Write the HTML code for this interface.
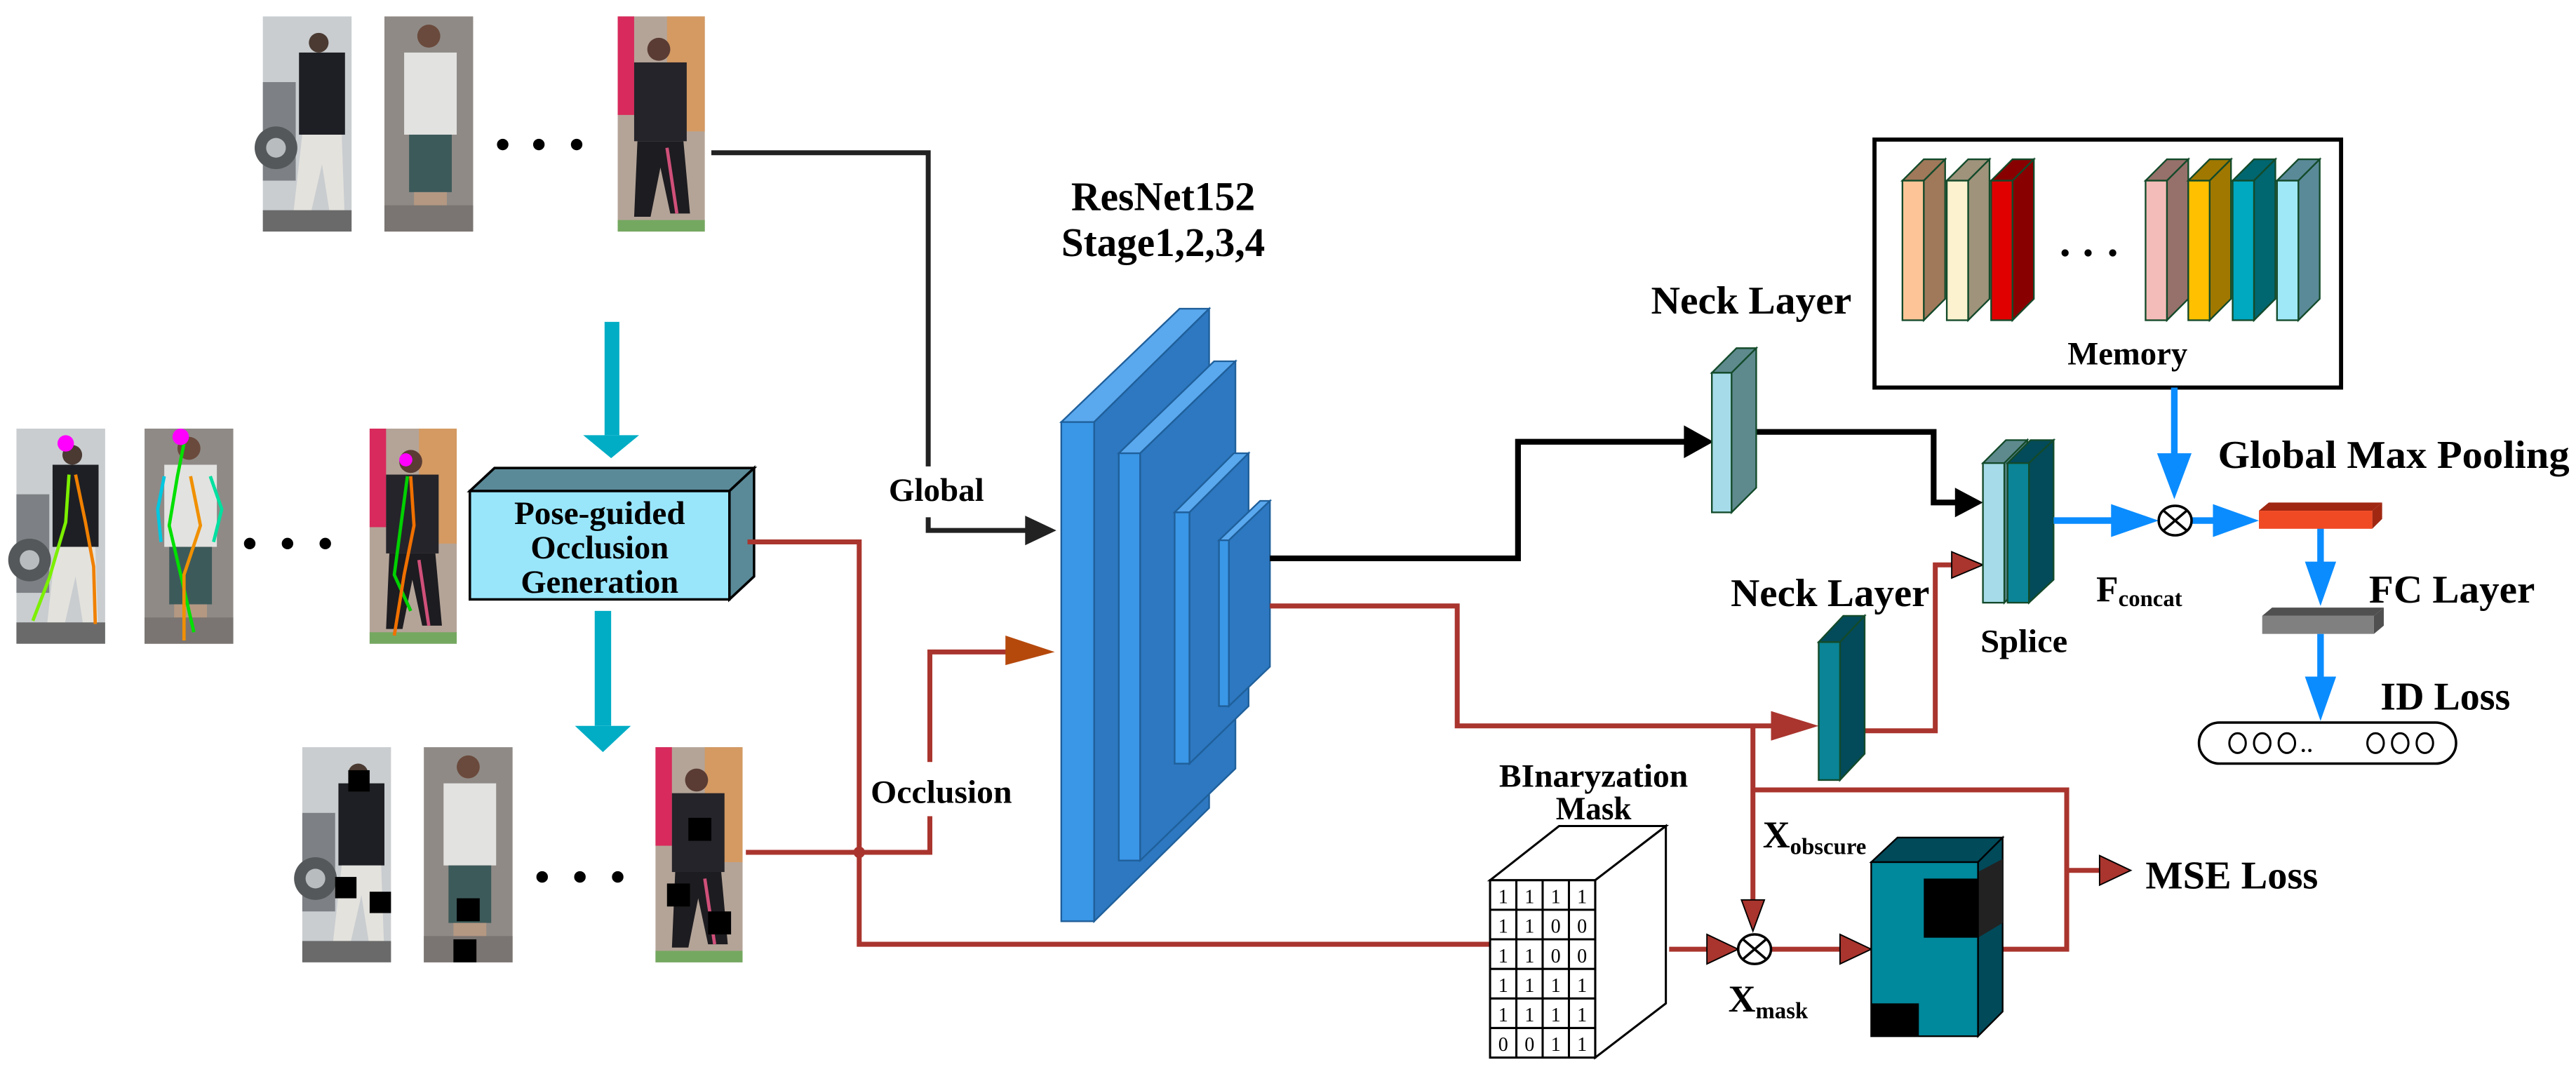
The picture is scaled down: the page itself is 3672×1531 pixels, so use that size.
<!DOCTYPE html>
<html><head><meta charset="utf-8"><style>
html,body{margin:0;padding:0;background:#fff;}
svg{display:block;}
text{font-family:"Liberation Serif",serif;font-weight:bold;fill:#000;}
</style></head><body>
<svg width="3672" height="1531" viewBox="0 0 1568 654" preserveAspectRatio="none" xmlns="http://www.w3.org/2000/svg">
<defs>
<g id="p1">
<rect x="0" y="0" width="54" height="131" fill="#c9cdd0"/>
<rect x="0" y="40" width="20" height="60" fill="#7d8084"/>
<circle cx="8" cy="80" r="13" fill="#55585a"/>
<circle cx="8" cy="80" r="6" fill="#b9bcbf"/>
<rect x="22" y="22" width="28" height="50" fill="#1e1f24"/>
<circle cx="34" cy="16" r="6" fill="#4a3a32"/>
<polygon points="24,72 48,72 50,128 42,128 36,90 28,125 18,125" fill="#e4e2dd"/>
<rect x="0" y="118" width="54" height="13" fill="#6a6a6a"/>
</g>
<g id="p2">
<rect x="0" y="0" width="54" height="131" fill="#8f8a86"/>
<rect x="12" y="22" width="32" height="50" fill="#e2e2e0"/>
<circle cx="27" cy="12" r="7" fill="#6a4a3c"/>
<rect x="15" y="72" width="26" height="35" fill="#3d5a5a"/>
<rect x="18" y="107" width="20" height="18" fill="#b49882"/>
<rect x="0" y="115" width="54" height="16" fill="#7a7572"/>
</g>
<g id="p3">
<rect x="0" y="0" width="53" height="131" fill="#b4a498"/>
<rect x="30" y="0" width="23" height="70" fill="#d49a62"/>
<rect x="0" y="0" width="10" height="60" fill="#d82a5c"/>
<rect x="10" y="28" width="32" height="48" fill="#25242a"/>
<circle cx="25" cy="20" r="7" fill="#5a3c34"/>
<polygon points="12,76 40,76 44,120 32,120 26,92 20,122 10,122" fill="#1d1c20"/>
<line x1="30" y1="80" x2="36" y2="120" stroke="#d0507a" stroke-width="2"/>
<rect x="0" y="124" width="53" height="7" fill="#74a860"/>
</g>
</defs>

<use href="#p1" x="160" y="10"/>
<use href="#p2" x="234" y="10"/>
<use href="#p3" x="376" y="10"/>
<circle cx="306" cy="88" r="3.5"/><circle cx="328" cy="88" r="3.5"/><circle cx="351" cy="88" r="3.5"/>

<use href="#p1" x="10" y="261"/>
<use href="#p2" x="88" y="261"/>
<use href="#p3" x="225" y="261"/>
<g stroke-width="2" fill="none">
<polyline points="42,289 40,318 30,352 20,378" stroke="#7cf000"/>
<polyline points="46,289 52,318 57,345 58,380" stroke="#f08000"/>
<polyline points="112,270 108,290 103,320 110,350 118,385" stroke="#00e000"/>
<polyline points="116,290 122,320 112,350 112,390" stroke="#f09000"/>
<polyline points="100,290 96,310 98,330" stroke="#00c8e0"/>
<polyline points="128,290 135,310 130,330" stroke="#00e0a0"/>
<polyline points="248,290 244,320 240,350 250,372" stroke="#00d000"/>
<polyline points="250,290 252,320 246,350 240,387" stroke="#f07000"/>
</g>
<circle cx="40" cy="270" r="5" fill="#ff00ff"/><circle cx="110" cy="266" r="5" fill="#ff00ff"/><circle cx="247" cy="280" r="4" fill="#ff00ff"/>
<circle cx="152" cy="331" r="3.5"/><circle cx="175" cy="331" r="3.5"/><circle cx="198" cy="331" r="3.5"/>

<use href="#p1" x="184" y="455"/>
<use href="#p2" x="258" y="455"/>
<use href="#p3" x="399" y="455"/>
<g fill="#000">
<rect x="212" y="469" width="13" height="13"/><rect x="204" y="534" width="13" height="13"/><rect x="225" y="543" width="13" height="13"/>
<rect x="278" y="547" width="14" height="14"/><rect x="276" y="572" width="14" height="14"/>
<rect x="419" y="498" width="14" height="14"/><rect x="406" y="538" width="14" height="14"/><rect x="431" y="555" width="14" height="14"/>
</g>
<circle cx="330" cy="534" r="3.5"/><circle cx="353" cy="534" r="3.5"/><circle cx="376" cy="534" r="3.5"/>

<rect x="368" y="196" width="9" height="69" fill="#00adc5"/>
<polygon points="355,265 389,265 372,279" fill="#00adc5"/>
<rect x="362" y="372" width="10" height="70" fill="#00adc5"/>
<polygon points="350,442 384,442 367,458" fill="#00adc5"/>

<polygon points="286,299 301,285 459,285 444,299" fill="#5a8a98" stroke="#000" stroke-width="1.5"/>
<polygon points="444,299 459,285 459,351 444,365" fill="#5a8a98" stroke="#000" stroke-width="1.5"/>
<rect x="286" y="299" width="158" height="66" fill="#99e6fb" stroke="#000" stroke-width="1.5"/>
<text x="365" y="319" font-size="20" text-anchor="middle" textLength="104" lengthAdjust="spacingAndGlyphs">Pose-guided</text>
<text x="365" y="340" font-size="20" text-anchor="middle" textLength="84" lengthAdjust="spacingAndGlyphs">Occlusion</text>
<text x="365" y="361" font-size="20" text-anchor="middle" textLength="96" lengthAdjust="spacingAndGlyphs">Generation</text>

<g fill="none" stroke-width="3" stroke-linejoin="miter">
<polyline points="433,93 565,93 565,284" stroke="#222"/>
<polyline points="565,315 565,323 626,323" stroke="#222"/>
<polyline points="455,330 523,330 523,575 908,575" stroke="#a9352e"/>
<polyline points="454,519 566,519 566,497" stroke="#a9352e"/>
<polyline points="566,464 566,397 614,397" stroke="#a9352e"/>
</g>
<polygon points="624,314 643,323 624,332" fill="#222"/>
<polygon points="612,387 642,397 612,405" fill="#b5490c"/>
<circle cx="523" cy="519" r="3.5" fill="#a9352e"/>
<text x="570" y="305" font-size="20" text-anchor="middle" textLength="58" lengthAdjust="spacingAndGlyphs">Global</text>
<text x="573" y="489" font-size="20" text-anchor="middle" textLength="86" lengthAdjust="spacingAndGlyphs">Occlusion</text>

<text x="708" y="128" font-size="25" text-anchor="middle" textLength="112" lengthAdjust="spacingAndGlyphs">ResNet152</text>
<text x="708" y="156" font-size="25" text-anchor="middle" textLength="124" lengthAdjust="spacingAndGlyphs">Stage1,2,3,4</text>
<g stroke="#1f5f9a" stroke-width="1">
<polygon points="646,257 718,188 736,188 666,257" fill="#5aa8ee"/>
<polygon points="666,257 736,188 736,492 666,561" fill="#2d78c0"/>
<rect x="646" y="257" width="20" height="304" fill="#3a96e6"/>
<polygon points="681,276 739,220 752,220 694,276" fill="#5aa8ee"/>
<polygon points="694,276 752,220 752,468 694,524" fill="#2d78c0"/>
<rect x="681" y="276" width="13" height="248" fill="#3a96e6"/>
<polygon points="715,312 751,276 760,276 724,312" fill="#5aa8ee"/>
<polygon points="724,312 760,276 760,430 724,465" fill="#2d78c0"/>
<rect x="715" y="312" width="9" height="153" fill="#3a96e6"/>
<polygon points="742,329 767,305 773,305 748,329" fill="#5aa8ee"/>
<polygon points="748,329 773,305 773,406 748,430" fill="#2d78c0"/>
<rect x="742" y="329" width="6" height="101" fill="#3a96e6"/>
</g>

<g fill="none" stroke-width="3.5">
<polyline points="773,340 924,340 924,269 1027,269" stroke="#000"/>
<polyline points="1069,263 1177,263 1177,306 1192,306" stroke="#000"/>
</g>
<g fill="none" stroke-width="3" stroke="#a9352e">
<polyline points="773,369 887,369 887,442 1080,442"/>
<polyline points="1135,445 1178,445 1178,344 1190,344"/>
<polyline points="1067,442 1067,550"/>
<polyline points="1067,481 1258,481 1258,578 1219,578"/>
<polyline points="1258,530 1280,530"/>
<polyline points="1016,578 1041,578"/>
<polyline points="1078,578 1122,578"/>
</g>
<polygon points="1025,259 1043,269 1025,279" fill="#000"/>
<polygon points="1190,297 1207,306 1190,315" fill="#000"/>
<polygon points="1188,336 1207,344 1188,352" fill="#a9352e" stroke="#000" stroke-width="0.8"/>
<polygon points="1078,433 1107,442 1078,451" fill="#a9352e"/>
<polygon points="1060,548 1074,548 1067,567" fill="#a9352e" stroke="#000" stroke-width="0.8"/>
<polygon points="1039,569 1058,578 1039,587" fill="#a9352e" stroke="#000" stroke-width="0.8"/>
<polygon points="1120,569 1139,578 1120,587" fill="#a9352e" stroke="#000" stroke-width="0.8"/>
<polygon points="1278,521 1297,530 1278,539" fill="#a9352e" stroke="#000" stroke-width="0.8"/>

<text x="1066" y="191" font-size="24" text-anchor="middle" textLength="122" lengthAdjust="spacingAndGlyphs">Neck Layer</text>
<g stroke="#134a2a" stroke-width="1">
<polygon points="1042,227 1057,212 1069,212 1054,227" fill="#5e8a8e"/>
<polygon points="1054,227 1069,212 1069,297 1054,312" fill="#5e8a8e"/>
<rect x="1042" y="227" width="12" height="85" fill="#a6dce9"/>
</g>
<text x="1114" y="369" font-size="24" text-anchor="middle" textLength="121" lengthAdjust="spacingAndGlyphs">Neck Layer</text>
<g stroke="#134a2a" stroke-width="1">
<polygon points="1107,391 1122,375 1135,375 1120,391" fill="#034a5a"/>
<polygon points="1120,391 1135,375 1135,459 1120,475" fill="#034a5a"/>
<rect x="1107" y="391" width="13" height="84" fill="#0a8496"/>
</g>
<g stroke="#134a2a" stroke-width="1">
<polygon points="1207,282 1221,268 1234,268 1220,282" fill="#5e8a8e"/>
<polygon points="1220,282 1234,268 1234,353 1220,367" fill="#5e8a8e"/>
<rect x="1207" y="282" width="13" height="85" fill="#a6dce9"/>
<polygon points="1222,282 1236,268 1250,268 1235,282" fill="#034a5a"/>
<polygon points="1235,282 1250,268 1250,353 1235,367" fill="#034a5a"/>
<rect x="1222" y="282" width="13" height="85" fill="#0a8496"/>
</g>
<text x="1232" y="397" font-size="20" text-anchor="middle" textLength="53" lengthAdjust="spacingAndGlyphs">Splice</text>
<text x="1276" y="366" font-size="22">F<tspan font-size="14" dy="3">concat</tspan></text>

<rect x="1141" y="85" width="284" height="151" fill="#fff" stroke="#000" stroke-width="2.5"/>
<g stroke="#134a2a" stroke-width="1">
<polygon points="1158,110 1171,97 1184,97 1171,110" fill="#a0785a"/><polygon points="1171,110 1184,97 1184,182 1171,195" fill="#a0785a"/><rect x="1158" y="110" width="13" height="85" fill="#fdc597"/>
<polygon points="1185,110 1198,97 1211,97 1198,110" fill="#9f937b"/><polygon points="1198,110 1211,97 1211,182 1198,195" fill="#9f937b"/><rect x="1185" y="110" width="13" height="85" fill="#fdf2cf"/>
<polygon points="1212,110 1225,97 1238,97 1225,110" fill="#880000"/><polygon points="1225,110 1238,97 1238,182 1225,195" fill="#880000"/><rect x="1212" y="110" width="13" height="85" fill="#e00000"/>
<polygon points="1306,110 1319,97 1332,97 1319,110" fill="#96706a"/><polygon points="1319,110 1332,97 1332,182 1319,195" fill="#96706a"/><rect x="1306" y="110" width="13" height="85" fill="#f4bcb8"/>
<polygon points="1332,110 1345,97 1358,97 1345,110" fill="#a07800"/><polygon points="1345,110 1358,97 1358,182 1345,195" fill="#a07800"/><rect x="1332" y="110" width="13" height="85" fill="#ffc000"/>
<polygon points="1359,110 1372,97 1385,97 1372,110" fill="#006670"/><polygon points="1372,110 1385,97 1385,182 1372,195" fill="#006670"/><rect x="1359" y="110" width="13" height="85" fill="#00a8c0"/>
<polygon points="1386,110 1399,97 1412,97 1399,110" fill="#5a8a98"/><polygon points="1399,110 1412,97 1412,182 1399,195" fill="#5a8a98"/><rect x="1386" y="110" width="13" height="85" fill="#9fe8f8"/>
</g>
<circle cx="1257" cy="154" r="2.2"/><circle cx="1271" cy="154" r="2.2"/><circle cx="1286" cy="154" r="2.2"/>
<text x="1295" y="222" font-size="20" text-anchor="middle" textLength="73" lengthAdjust="spacingAndGlyphs">Memory</text>

<g stroke="#0a8cff" stroke-width="4" fill="none">
<line x1="1323.5" y1="236" x2="1323.5" y2="278"/>
<line x1="1250" y1="317" x2="1287" y2="317"/>
<line x1="1334" y1="317" x2="1349" y2="317"/>
<line x1="1412.5" y1="321" x2="1412.5" y2="344"/>
<line x1="1412.5" y1="386" x2="1412.5" y2="414"/>
</g>
<g fill="#0a8cff">
<polygon points="1313,276 1334,276 1323.5,304"/>
<polygon points="1285,307 1314,317 1285,327"/>
<polygon points="1347,307 1375,317 1347,327"/>
<polygon points="1403,342 1422,342 1412.5,369"/>
<polygon points="1403,412 1422,412 1412.5,439"/>
</g>
<ellipse cx="1324" cy="317" rx="10" ry="9" fill="#fff" stroke="#000" stroke-width="1.5"/>
<line x1="1317" y1="311" x2="1331" y2="323" stroke="#000" stroke-width="1.5"/><line x1="1331" y1="311" x2="1317" y2="323" stroke="#000" stroke-width="1.5"/>

<text x="1350" y="285" font-size="24" textLength="214" lengthAdjust="spacingAndGlyphs">Global Max Pooling</text>
<polygon points="1375,311 1381,306 1450,306 1444,311" fill="#a02812"/>
<polygon points="1444,311 1450,306 1450,316 1444,322" fill="#a02812"/>
<rect x="1375" y="311" width="69" height="11" fill="#f04a24"/>
<text x="1442" y="367" font-size="24" textLength="101" lengthAdjust="spacingAndGlyphs">FC Layer</text>
<polygon points="1377,375 1383,370 1451,370 1445,375" fill="#505050"/>
<polygon points="1445,375 1451,370 1451,381 1445,386" fill="#505050"/>
<rect x="1377" y="375" width="68" height="11" fill="#808080"/>
<text x="1449" y="432" font-size="24" textLength="79" lengthAdjust="spacingAndGlyphs">ID Loss</text>
<rect x="1338.5" y="440" width="156.5" height="25" rx="12.5" fill="#fff" stroke="#000" stroke-width="1.5"/>
<g fill="none" stroke="#000" stroke-width="1.3">
<ellipse cx="1362" cy="452.5" rx="5" ry="6"/><ellipse cx="1377" cy="452.5" rx="5" ry="6"/><ellipse cx="1392" cy="452.5" rx="5" ry="6"/>
<ellipse cx="1446" cy="452.5" rx="5" ry="6"/><ellipse cx="1461" cy="452.5" rx="5" ry="6"/><ellipse cx="1476" cy="452.5" rx="5" ry="6"/>
</g>
<circle cx="1402" cy="457" r="1"/><circle cx="1406" cy="457" r="1"/>

<text x="970" y="479" font-size="20" text-anchor="middle" textLength="115" lengthAdjust="spacingAndGlyphs">BInaryzation</text>
<text x="970" y="499" font-size="20" text-anchor="middle" textLength="46" lengthAdjust="spacingAndGlyphs">Mask</text>
<g stroke="#000" stroke-width="1.3" fill="#fff">
<polygon points="907,536 949,503 1014,503 971,536"/>
<polygon points="971,536 1014,503 1014,611 971,644"/>
<rect x="907" y="536" width="64" height="108"/>
</g>
<g stroke="#000" stroke-width="1.3">
<line x1="923" y1="536" x2="923" y2="644"/><line x1="939" y1="536" x2="939" y2="644"/><line x1="955" y1="536" x2="955" y2="644"/>
<line x1="907" y1="554" x2="971" y2="554"/><line x1="907" y1="572" x2="971" y2="572"/><line x1="907" y1="590" x2="971" y2="590"/><line x1="907" y1="608" x2="971" y2="608"/><line x1="907" y1="626" x2="971" y2="626"/>
</g>
<g font-size="12" text-anchor="middle">
<text x="915" y="550" style="font-weight:normal">1</text><text x="931" y="550" style="font-weight:normal">1</text><text x="947" y="550" style="font-weight:normal">1</text><text x="963" y="550" style="font-weight:normal">1</text>
<text x="915" y="568" style="font-weight:normal">1</text><text x="931" y="568" style="font-weight:normal">1</text><text x="947" y="568" style="font-weight:normal">0</text><text x="963" y="568" style="font-weight:normal">0</text>
<text x="915" y="586" style="font-weight:normal">1</text><text x="931" y="586" style="font-weight:normal">1</text><text x="947" y="586" style="font-weight:normal">0</text><text x="963" y="586" style="font-weight:normal">0</text>
<text x="915" y="604" style="font-weight:normal">1</text><text x="931" y="604" style="font-weight:normal">1</text><text x="947" y="604" style="font-weight:normal">1</text><text x="963" y="604" style="font-weight:normal">1</text>
<text x="915" y="622" style="font-weight:normal">1</text><text x="931" y="622" style="font-weight:normal">1</text><text x="947" y="622" style="font-weight:normal">1</text><text x="963" y="622" style="font-weight:normal">1</text>
<text x="915" y="640" style="font-weight:normal">0</text><text x="931" y="640" style="font-weight:normal">0</text><text x="947" y="640" style="font-weight:normal">1</text><text x="963" y="640" style="font-weight:normal">1</text>
</g>

<ellipse cx="1068" cy="578" rx="10" ry="9" fill="#fff" stroke="#000" stroke-width="1.5"/>
<line x1="1061" y1="572" x2="1075" y2="584" stroke="#000" stroke-width="1.5"/><line x1="1075" y1="572" x2="1061" y2="584" stroke="#000" stroke-width="1.5"/>
<text x="1073" y="516" font-size="23">X<tspan font-size="14" dy="4">obscure</tspan></text>
<text x="1052" y="616" font-size="23">X<tspan font-size="14" dy="4">mask</tspan></text>

<polygon points="1139,525 1155,510 1219,510 1204,525" fill="#004a5a" stroke="#000" stroke-width="1"/>
<polygon points="1204,525 1219,510 1219,616 1204,631" fill="#004a5a" stroke="#000" stroke-width="1"/>
<polygon points="1204,531 1219,523 1219,562 1204,571" fill="#222"/>
<rect x="1139" y="525" width="65" height="106" fill="#00889c" stroke="#000" stroke-width="1"/>
<rect x="1171" y="535" width="33" height="36" fill="#000"/>
<rect x="1139" y="611" width="29" height="20" fill="#000"/>

<text x="1306" y="541" font-size="24" textLength="105" lengthAdjust="spacingAndGlyphs">MSE Loss</text>
</svg>
</body></html>
